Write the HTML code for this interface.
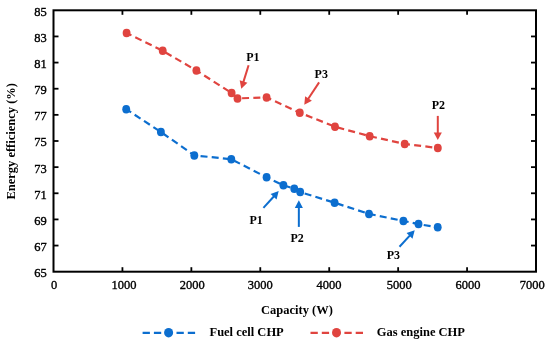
<!DOCTYPE html>
<html><head><meta charset="utf-8"><title>Energy efficiency vs capacity</title><style>html,body{margin:0;padding:0;background:#fff;width:550px;height:344px;overflow:hidden}svg{display:block;filter:blur(0.3px)}</style></head><body>
<svg width="550" height="344" viewBox="0 0 550 344">
<rect width="550" height="344" fill="#fff"/>
<rect x="53.5" y="10.3" width="482.5" height="261.4" fill="none" stroke="#000" stroke-width="2"/>
<line x1="122.43" y1="271.7" x2="122.43" y2="267.2" stroke="#000" stroke-width="1.8"/><line x1="122.43" y1="10.3" x2="122.43" y2="14.8" stroke="#000" stroke-width="1.8"/><line x1="191.36" y1="271.7" x2="191.36" y2="267.2" stroke="#000" stroke-width="1.8"/><line x1="191.36" y1="10.3" x2="191.36" y2="14.8" stroke="#000" stroke-width="1.8"/><line x1="260.29" y1="271.7" x2="260.29" y2="267.2" stroke="#000" stroke-width="1.8"/><line x1="260.29" y1="10.3" x2="260.29" y2="14.8" stroke="#000" stroke-width="1.8"/><line x1="329.21" y1="271.7" x2="329.21" y2="267.2" stroke="#000" stroke-width="1.8"/><line x1="329.21" y1="10.3" x2="329.21" y2="14.8" stroke="#000" stroke-width="1.8"/><line x1="398.14" y1="271.7" x2="398.14" y2="267.2" stroke="#000" stroke-width="1.8"/><line x1="398.14" y1="10.3" x2="398.14" y2="14.8" stroke="#000" stroke-width="1.8"/><line x1="467.07" y1="271.7" x2="467.07" y2="267.2" stroke="#000" stroke-width="1.8"/><line x1="467.07" y1="10.3" x2="467.07" y2="14.8" stroke="#000" stroke-width="1.8"/><line x1="53.5" y1="245.56" x2="58.5" y2="245.56" stroke="#000" stroke-width="1.8"/><line x1="536.0" y1="245.56" x2="531.0" y2="245.56" stroke="#000" stroke-width="1.8"/><line x1="53.5" y1="219.42" x2="58.5" y2="219.42" stroke="#000" stroke-width="1.8"/><line x1="536.0" y1="219.42" x2="531.0" y2="219.42" stroke="#000" stroke-width="1.8"/><line x1="53.5" y1="193.28" x2="58.5" y2="193.28" stroke="#000" stroke-width="1.8"/><line x1="536.0" y1="193.28" x2="531.0" y2="193.28" stroke="#000" stroke-width="1.8"/><line x1="53.5" y1="167.14" x2="58.5" y2="167.14" stroke="#000" stroke-width="1.8"/><line x1="536.0" y1="167.14" x2="531.0" y2="167.14" stroke="#000" stroke-width="1.8"/><line x1="53.5" y1="141.00" x2="58.5" y2="141.00" stroke="#000" stroke-width="1.8"/><line x1="536.0" y1="141.00" x2="531.0" y2="141.00" stroke="#000" stroke-width="1.8"/><line x1="53.5" y1="114.86" x2="58.5" y2="114.86" stroke="#000" stroke-width="1.8"/><line x1="536.0" y1="114.86" x2="531.0" y2="114.86" stroke="#000" stroke-width="1.8"/><line x1="53.5" y1="88.72" x2="58.5" y2="88.72" stroke="#000" stroke-width="1.8"/><line x1="536.0" y1="88.72" x2="531.0" y2="88.72" stroke="#000" stroke-width="1.8"/><line x1="53.5" y1="62.58" x2="58.5" y2="62.58" stroke="#000" stroke-width="1.8"/><line x1="536.0" y1="62.58" x2="531.0" y2="62.58" stroke="#000" stroke-width="1.8"/><line x1="53.5" y1="36.44" x2="58.5" y2="36.44" stroke="#000" stroke-width="1.8"/><line x1="536.0" y1="36.44" x2="531.0" y2="36.44" stroke="#000" stroke-width="1.8"/>
<g font-family="Liberation Serif, serif" font-size="12.5" fill="#000" stroke="#000" stroke-width="0.35">
<text transform="translate(54.20,288.50) scale(1,1.07)" text-anchor="middle">0</text><text transform="translate(123.88,288.50) scale(1,1.07)" text-anchor="middle">1000</text><text transform="translate(192.21,288.50) scale(1,1.07)" text-anchor="middle">2000</text><text transform="translate(260.29,288.50) scale(1,1.07)" text-anchor="middle">3000</text><text transform="translate(329.06,288.50) scale(1,1.07)" text-anchor="middle">4000</text><text transform="translate(399.19,288.50) scale(1,1.07)" text-anchor="middle">5000</text><text transform="translate(467.97,288.50) scale(1,1.07)" text-anchor="middle">6000</text><text transform="translate(532.25,288.50) scale(1,1.07)" text-anchor="middle">7000</text>
<text transform="translate(46.70,277.10) scale(1,1.07)" text-anchor="end">65</text><text transform="translate(46.70,250.96) scale(1,1.07)" text-anchor="end">67</text><text transform="translate(46.70,224.82) scale(1,1.07)" text-anchor="end">69</text><text transform="translate(46.70,198.68) scale(1,1.07)" text-anchor="end">71</text><text transform="translate(46.70,172.54) scale(1,1.07)" text-anchor="end">73</text><text transform="translate(46.70,146.40) scale(1,1.07)" text-anchor="end">75</text><text transform="translate(46.70,120.26) scale(1,1.07)" text-anchor="end">77</text><text transform="translate(46.70,94.12) scale(1,1.07)" text-anchor="end">79</text><text transform="translate(46.70,67.98) scale(1,1.07)" text-anchor="end">81</text><text transform="translate(46.70,41.84) scale(1,1.07)" text-anchor="end">83</text><text transform="translate(46.70,15.70) scale(1,1.07)" text-anchor="end">85</text>
</g>
<g font-family="Liberation Serif, serif" font-size="12.5" font-weight="bold" fill="#000">
<text transform="translate(297.00,314.20) scale(1,1.07)" text-anchor="middle">Capacity (W)</text>
<text transform="translate(15,141.3) scale(1,1.0) rotate(-90)" text-anchor="middle">Energy efficiency (%)</text>
</g>
<polyline fill="none" points="126.6,33.0 162.7,50.8 196.4,70.5 231.6,93.0 237.5,98.4 266.6,97.4 299.8,112.7 335.0,126.7 369.7,136.2 404.7,143.9 437.8,148.0" stroke="#e0443f" stroke-width="2.2" stroke-dasharray="7 4.27" stroke-dashoffset="1.6"/>
<ellipse cx="126.6" cy="33.0" rx="3.95" ry="4.23" fill="#e0443f"/><ellipse cx="162.7" cy="50.8" rx="3.95" ry="4.23" fill="#e0443f"/><ellipse cx="196.4" cy="70.5" rx="3.95" ry="4.23" fill="#e0443f"/><ellipse cx="231.6" cy="93.0" rx="3.95" ry="4.23" fill="#e0443f"/><ellipse cx="237.5" cy="98.4" rx="3.95" ry="4.23" fill="#e0443f"/><ellipse cx="266.6" cy="97.4" rx="3.95" ry="4.23" fill="#e0443f"/><ellipse cx="299.8" cy="112.7" rx="3.95" ry="4.23" fill="#e0443f"/><ellipse cx="335.0" cy="126.7" rx="3.95" ry="4.23" fill="#e0443f"/><ellipse cx="369.7" cy="136.2" rx="3.95" ry="4.23" fill="#e0443f"/><ellipse cx="404.7" cy="143.9" rx="3.95" ry="4.23" fill="#e0443f"/><ellipse cx="437.8" cy="148.0" rx="3.95" ry="4.23" fill="#e0443f"/>
<polyline fill="none" points="126.2,109.2 160.9,132.0 194.3,155.4 231.3,159.2 266.6,177.3 283.4,185.3 294.3,188.7 300.2,192.1 334.6,202.7 369.0,213.9 403.4,220.9 418.5,224.1 437.7,227.3" stroke="#0c6ecf" stroke-width="2.2" stroke-dasharray="7 4.21" stroke-dashoffset="1.1"/>
<ellipse cx="126.2" cy="109.2" rx="3.95" ry="4.23" fill="#0c6ecf"/><ellipse cx="160.9" cy="132.0" rx="3.95" ry="4.23" fill="#0c6ecf"/><ellipse cx="194.3" cy="155.4" rx="3.95" ry="4.23" fill="#0c6ecf"/><ellipse cx="231.3" cy="159.2" rx="3.95" ry="4.23" fill="#0c6ecf"/><ellipse cx="266.6" cy="177.3" rx="3.95" ry="4.23" fill="#0c6ecf"/><ellipse cx="283.4" cy="185.3" rx="3.95" ry="4.23" fill="#0c6ecf"/><ellipse cx="294.3" cy="188.7" rx="3.95" ry="4.23" fill="#0c6ecf"/><ellipse cx="300.2" cy="192.1" rx="3.95" ry="4.23" fill="#0c6ecf"/><ellipse cx="334.6" cy="202.7" rx="3.95" ry="4.23" fill="#0c6ecf"/><ellipse cx="369.0" cy="213.9" rx="3.95" ry="4.23" fill="#0c6ecf"/><ellipse cx="403.4" cy="220.9" rx="3.95" ry="4.23" fill="#0c6ecf"/><ellipse cx="418.5" cy="224.1" rx="3.95" ry="4.23" fill="#0c6ecf"/><ellipse cx="437.7" cy="227.3" rx="3.95" ry="4.23" fill="#0c6ecf"/>
<line x1="248.60" y1="65.30" x2="243.27" y2="82.40" stroke="#e0443f" stroke-width="2"/><polygon points="241.30,88.70 239.70,80.24 247.43,82.65" fill="#e0443f"/>
<line x1="319.10" y1="82.40" x2="307.94" y2="99.29" stroke="#e0443f" stroke-width="2"/><polygon points="304.30,104.80 305.11,96.23 311.87,100.69" fill="#e0443f"/>
<line x1="437.80" y1="115.90" x2="437.80" y2="133.50" stroke="#e0443f" stroke-width="2"/><polygon points="437.80,140.10 433.75,132.50 441.85,132.50" fill="#e0443f"/>
<line x1="263.40" y1="207.90" x2="274.26" y2="195.98" stroke="#0c6ecf" stroke-width="2"/><polygon points="278.70,191.10 276.58,199.45 270.59,193.99" fill="#0c6ecf"/>
<line x1="298.85" y1="226.90" x2="298.85" y2="206.90" stroke="#0c6ecf" stroke-width="2"/><polygon points="298.85,200.30 302.90,207.90 294.80,207.90" fill="#0c6ecf"/>
<line x1="399.50" y1="246.70" x2="410.21" y2="235.14" stroke="#0c6ecf" stroke-width="2"/><polygon points="414.70,230.30 412.50,238.63 406.56,233.12" fill="#0c6ecf"/>
<g font-family="Liberation Serif, serif" font-size="12" font-weight="bold" fill="#000">
<text transform="translate(246.30,60.60) scale(1,1.07)">P1</text><text transform="translate(314.60,78.20) scale(1,1.07)">P3</text><text transform="translate(431.80,109.30) scale(1,1.07)">P2</text><text transform="translate(249.50,224.00) scale(1,1.07)">P1</text><text transform="translate(290.40,241.60) scale(1,1.07)">P2</text><text transform="translate(386.80,259.20) scale(1,1.07)">P3</text>
</g>
<line x1="142.6" y1="332.8" x2="195.1" y2="332.8" stroke="#0c6ecf" stroke-width="2.2" stroke-dasharray="7.3 4"/><ellipse cx="168.6" cy="332.7" rx="4.5" ry="4.82" fill="#0c6ecf"/>
<line x1="310.5" y1="332.8" x2="363.0" y2="332.8" stroke="#e0443f" stroke-width="2.2" stroke-dasharray="7.3 4"/><ellipse cx="336.5" cy="332.7" rx="4.5" ry="4.82" fill="#e0443f"/>
<g font-family="Liberation Serif, serif" font-size="12.5" font-weight="bold" fill="#000">
<text transform="translate(209.50,336.40) scale(1,1.07)">Fuel cell CHP</text>
<text transform="translate(376.80,336.40) scale(1,1.07)">Gas engine CHP</text>
</g>
</svg>
</body></html>
